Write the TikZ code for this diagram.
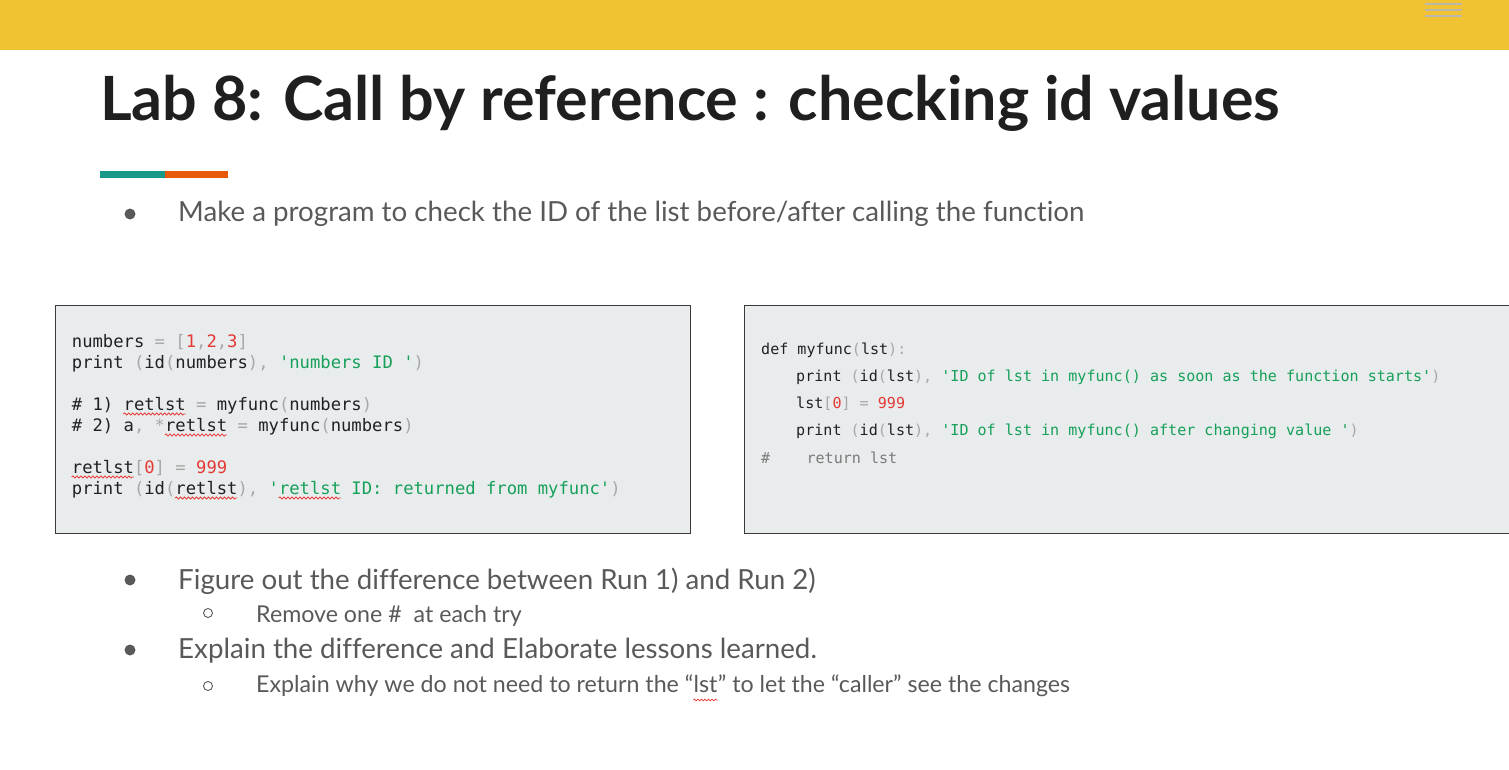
\documentclass[tikz,border=0pt]{standalone}
\usepackage{fontspec}
\setmainfont{Lato}[Ligatures={TeX,NoCommon}]
\setmonofont{DejaVu Sans Mono}
\usetikzlibrary{decorations.pathmorphing,calc}
\definecolor{yellowbar}{HTML}{F1C232}
\definecolor{accteal}{HTML}{17998A}
\definecolor{accorange}{HTML}{E8590C}
\definecolor{titlec}{HTML}{1F1F1F}
\definecolor{bodyc}{HTML}{595959}
\definecolor{boxfill}{HTML}{E8ECEC}
\definecolor{boxline}{HTML}{3A3A3A}
\definecolor{cblack}{HTML}{202124}
\definecolor{cpunct}{HTML}{A8A8A8}
\definecolor{cnumc}{HTML}{E53935}
\definecolor{cstrc}{HTML}{16A05A}
\definecolor{ccomc}{HTML}{7A7A7A}
\definecolor{squigc}{HTML}{E53935}
\definecolor{iconc}{HTML}{B9B7AE}
\newcommand\cp[1]{\textcolor{cpunct}{#1}}
\newcommand\cn[1]{\textcolor{cnumc}{#1}}
\newcommand\cs[1]{\textcolor{cstrc}{#1}}
\newcommand\cc[1]{\textcolor{ccomc}{#1}}
\begin{document}
\begin{tikzpicture}[x=1pt,y=-1pt,
  codebox/.style={draw=boxline, line width=1.4pt, fill=boxfill, anchor=north west, inner sep=0},
  codeL/.style={anchor=base west, inner sep=0, text=cblack, font=\ttfamily\fontsize{17.2}{20}\selectfont},
  codeR/.style={anchor=base west, inner sep=0, text=cblack, font=\ttfamily\fontsize{15.07}{18}\selectfont},
  bodytext/.style={anchor=base west, inner sep=0, text=bodyc, font=\fontsize{27.7}{33}\selectfont},
  subtext/.style={anchor=base west, inner sep=0, text=bodyc, font=\fontsize{23.2}{28}\selectfont},
  bdot/.style={circle, fill=bodyc, minimum size=11pt, inner sep=0},
  sdot/.style={circle, draw=bodyc, line width=0.9pt, minimum size=9pt, inner sep=0},
  squig/.style={draw=squigc, line width=0.8pt, decorate, decoration={snake, amplitude=1.1pt, segment length=4pt}},
  iconline/.style={draw=iconc, line width=2pt}
]
\useasboundingbox (0,0) rectangle (1509,770);
\clip (0,0) rectangle (1509,770);
% top bar
\path[fill=yellowbar] (0,0) rectangle (1509,50);
\coordinate (i1a) at (1425,4.5); \coordinate (i1b) at (1462,4.5);
\coordinate (i2a) at (1425,10.5); \coordinate (i2b) at (1462,10.5);
\coordinate (i3a) at (1425,16); \coordinate (i3b) at (1462,16);
\draw[iconline] (i1a) -- (i1b);
\draw[iconline] (i2a) -- (i2b);
\draw[iconline] (i3a) -- (i3b);
% title
\node[anchor=base west, inner sep=0, text=titlec, font=\bfseries\fontsize{61}{72}\selectfont] (title) at (100,121) {Lab 8: Call by reference : checking id values};
% accent bar
\path[fill=accteal] (100,171) rectangle (165,178);
\path[fill=accorange] (165,171) rectangle (228,178);
% bullet 1
\node[bdot] (d1) at (130,214) {};
\node[bodytext] (t1) at (178,222) {Make a program to check the ID of the list before/after calling the function};
% code boxes
\node[codebox, minimum width=635pt, minimum height=228pt] (boxL) at (55,305) {};
\node[codebox, minimum width=790pt, minimum height=228pt] (boxR) at (744,305) {};
% left code
\node[codeL] (l1) at (71.7,347) {numbers \cp{=} \cp{[}\cn{1}\cp{,}\cn{2}\cp{,}\cn{3}\cp{]}};
\node[codeL] (l2) at (71.7,368) {print \cp{(}id\cp{(}numbers\cp{)}\cp{,} \cs{'numbers ID '}\cp{)}};
\node[codeL] (l3) at (71.7,410) {\# 1) retlst \cp{=} myfunc\cp{(}numbers\cp{)}};
\node[codeL] (l4) at (71.7,431) {\# 2) a\cp{,} \cp{*}retlst \cp{=} myfunc\cp{(}numbers\cp{)}};
\node[codeL] (l5) at (71.7,473) {retlst\cp{[}\cn{0}\cp{]} \cp{=} \cn{999}};
\node[codeL] (l6) at (71.7,494) {print \cp{(}id\cp{(}retlst\cp{)}\cp{,} \cs{'retlst ID: returned from myfunc'}\cp{)}};
\def\cw{10.35}
\draw[squig] ($(l3.base west)+(5*\cw,4)$) -- ($(l3.base west)+(11*\cw,4)$);
\draw[squig] ($(l4.base west)+(9*\cw,4)$) -- ($(l4.base west)+(15*\cw,4)$);
\draw[squig] ($(l5.base west)+(0,4)$) -- ($(l5.base west)+(6*\cw,4)$);
\draw[squig] ($(l6.base west)+(10*\cw,4)$) -- ($(l6.base west)+(16*\cw,4)$);
\draw[squig] ($(l6.base west)+(20*\cw,4)$) -- ($(l6.base west)+(26*\cw,4)$);
% right code
\node[codeR] (r1) at (761,354) {def myfunc\cp{(}lst\cp{)}\cp{:}};
\node[codeR] (r2) at (796,381.3) {print \cp{(}id\cp{(}lst\cp{)}\cp{,} \cs{'ID of lst in myfunc() as soon as the function starts'}\cp{)}};
\node[codeR] (r3) at (796,408.6) {lst\cp{[}\cn{0}\cp{]} \cp{=} \cn{999}};
\node[codeR] (r4) at (796,435.9) {print \cp{(}id\cp{(}lst\cp{)}\cp{,} \cs{'ID of lst in myfunc() after changing value '}\cp{)}};
\node[codeR] (r5) at (761,463.2) {\cc{\#~~~~return lst}};
% lower bullets
\node[bdot] (d2) at (130,580) {};
\node[bodytext] (t2) at (178,589) {Figure out the difference between Run 1) and Run 2)};
\node[sdot] (s1) at (208,613) {};
\node[subtext] (u1) at (256,622) {Remove one \#\ \ at each try};
\node[bdot] (d3) at (130,650) {};
\node[bodytext] (t3) at (178,658) {Explain the difference and Elaborate lessons learned.};
\node[sdot] (s2) at (208,686) {};
\node[subtext] (u2a) at (256,692) {Explain why we do not need to return the “};
\node[subtext] (u2b) at (u2a.base east) {lst};
\node[subtext] (u2c) at (u2b.base east) {” to let the “caller” see the changes};
\draw[squig, line width=0.7pt, decoration={snake, amplitude=0.9pt, segment length=3.5pt}] ($(u2b.base west)+(0,8)$) -- ($(u2b.base east)+(0,8)$);
\end{tikzpicture}
\end{document}
